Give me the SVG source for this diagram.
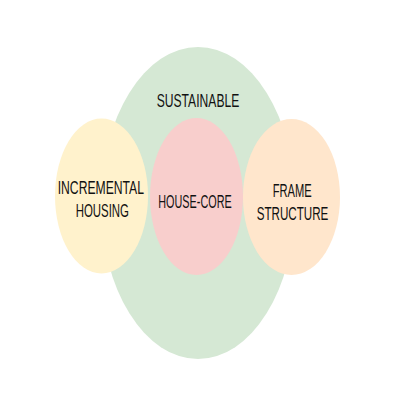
<svg xmlns="http://www.w3.org/2000/svg" width="400" height="400" viewBox="0 0 400 400">
<style>
.lbl{font-family:"Liberation Sans Narrow","Liberation Sans",Arial,sans-serif;font-size:18px;fill:#111111}
</style>
<rect width="400" height="400" fill="#ffffff"/>
<g id="sustainable">
<ellipse cx="198" cy="203" rx="97" ry="156" fill="#d5e8d4"/>
<text class="lbl" x="156.7" y="107" textLength="82.6" lengthAdjust="spacingAndGlyphs">SUSTAINABLE</text>
</g>
<g id="incremental-housing">
<ellipse cx="101.5" cy="196" rx="46.5" ry="77.5" fill="#fff2cc"/>
<text class="lbl" x="57.7" y="194" textLength="86.3" lengthAdjust="spacingAndGlyphs">INCREMENTAL</text>
<text class="lbl" x="75.7" y="216.7" textLength="53.3" lengthAdjust="spacingAndGlyphs">HOUSING</text>
</g>
<g id="house-core">
<ellipse cx="196.5" cy="196.5" rx="46.5" ry="78.5" fill="#f8cecc"/>
<text class="lbl" x="158.3" y="207.7" textLength="73.4" lengthAdjust="spacingAndGlyphs">HOUSE-CORE</text>
</g>
<g id="frame-structure">
<ellipse cx="291.5" cy="197" rx="48.5" ry="78" fill="#ffe6cc"/>
<text class="lbl" x="272.7" y="196.7" textLength="39" lengthAdjust="spacingAndGlyphs">FRAME</text>
<text class="lbl" x="256.7" y="220" textLength="71.6" lengthAdjust="spacingAndGlyphs">STRUCTURE</text>
</g>
<g id="connectors"></g>
</svg>
